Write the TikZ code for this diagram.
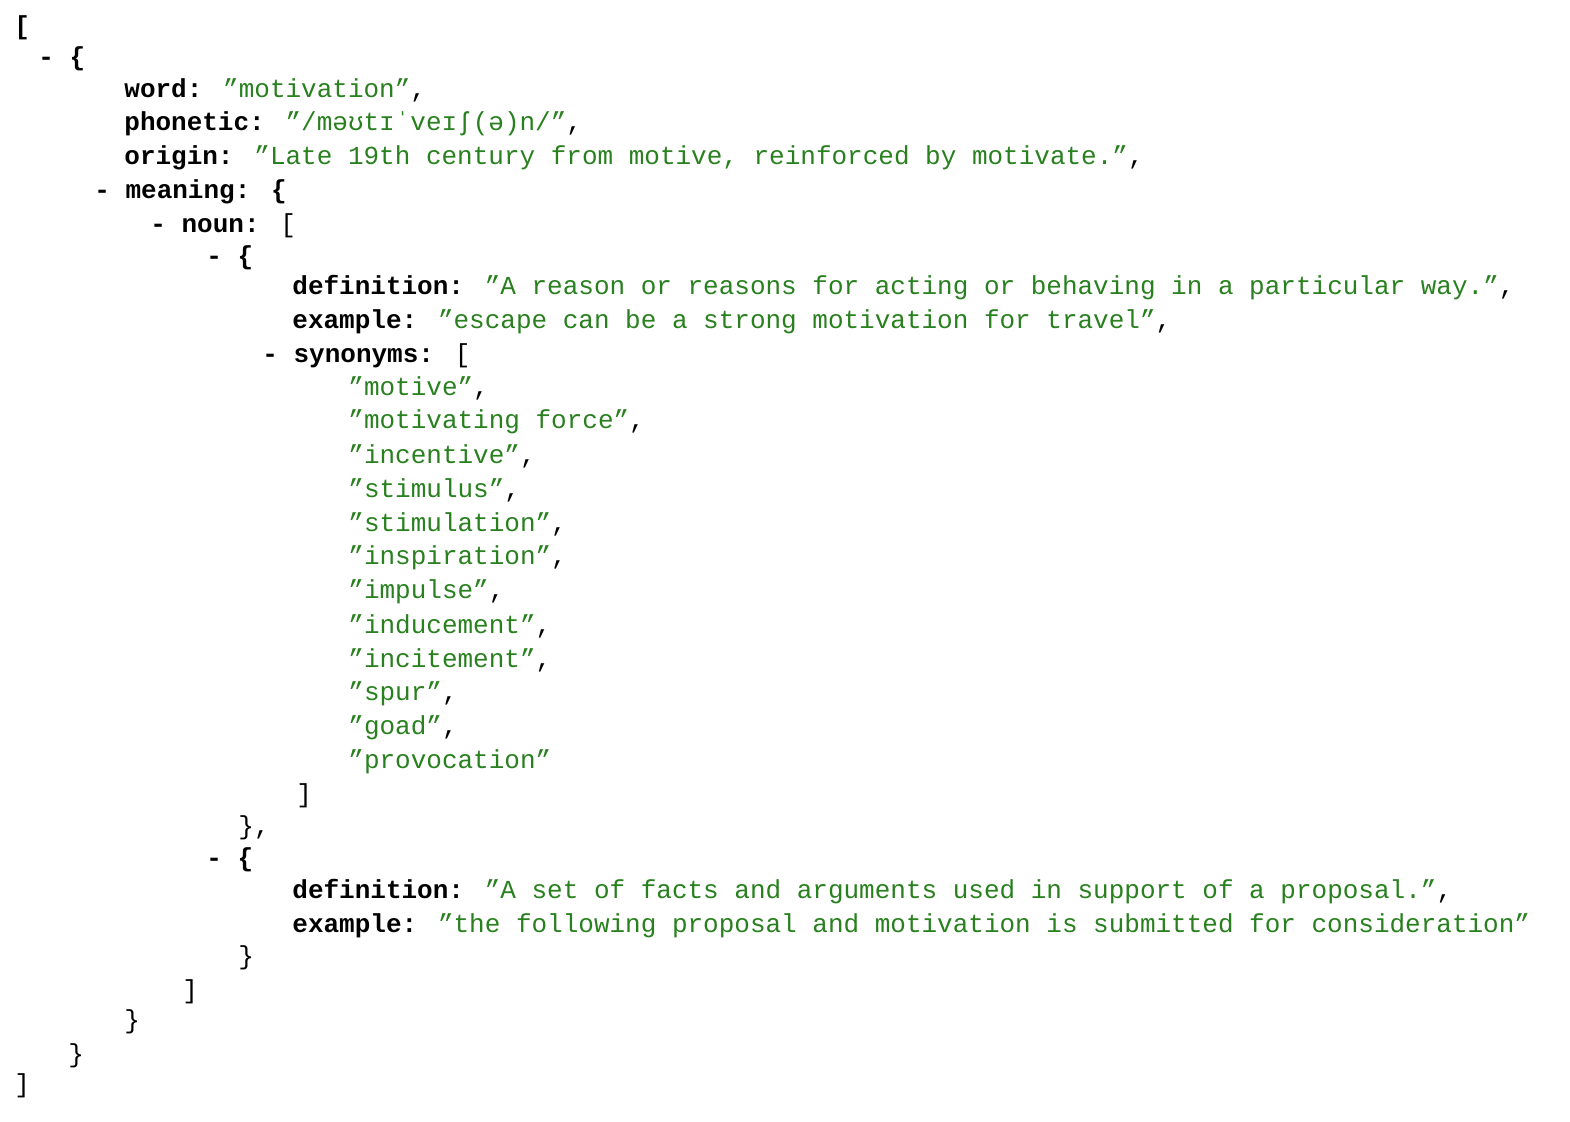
\documentclass[tikz,border=0pt]{standalone}
\usepackage{fontspec}
\setmainfont{Liberation Mono}
\definecolor{strg}{RGB}{40,128,30}
\tikzset{ln/.style={anchor=west,inner sep=0pt,font=\fontsize{13pt}{15pt}\selectfont,text=black},
 k/.style={}}
\newcommand{\K}[1]{\textbf{#1}}
\newcommand{\V}[1]{\textcolor{strg}{#1}}
\begin{document}
\begin{tikzpicture}[x=0.5pt,y=-0.5pt]
\useasboundingbox (0,0) rectangle (1570,1122);
\node[ln] (l1) at (14,28) {\K{[}};
\node[ln] (l2) at (38,59) {\K{- \{}};
\node[ln] (l3) at (124,90) {\K{word:} \V{"motivation"},};
\node[ln] (l4) at (124,124) {\K{phonetic:} \V{"/məʊtɪˈveɪʃ(ə)n/"},};
\node[ln] (l5) at (124,158) {\K{origin:} \V{"Late 19th century from motive, reinforced by motivate."},};
\node[ln] (l6) at (94,192) {\K{- meaning:} \K{\{}};
\node[ln] (l7) at (150,226) {\K{- noun:} [};
\node[ln] (l8) at (206,258) {\K{- \{}};
\node[ln] (l9) at (292,288) {\K{definition:} \V{"A reason or reasons for acting or behaving in a particular way."},};
\node[ln] (l10) at (292,322) {\K{example:} \V{"escape can be a strong motivation for travel"},};
\node[ln] (l11) at (262,356) {\K{- synonyms:} [};
\foreach \w [count=\i from 0] in {motive,motivating force,incentive,stimulus,stimulation,inspiration,impulse,inducement,incitement,spur,goad}
  \node[ln] (s\i) at (348,388+34*\i) {\V{"\w"},};
\node[ln] (s11) at (348,762) {\V{"provocation"}};
\node[ln] (l24) at (296,796) {]};
\node[ln] (l25) at (238,828) {\},};
\node[ln] (l26) at (206,860) {\K{- \{}};
\node[ln] (l27) at (292,892) {\K{definition:} \V{"A set of facts and arguments used in support of a proposal."},};
\node[ln] (l28) at (292,926) {\K{example:} \V{"the following proposal and motivation is submitted for consideration"}};
\node[ln] (l29) at (238,958) {\}};
\node[ln] (l30) at (182,992) {]};
\node[ln] (l31) at (124,1022) {\}};
\node[ln] (l32) at (68,1056) {\}};
\node[ln] (l33) at (14,1086) {]};
\end{tikzpicture}
\end{document}
